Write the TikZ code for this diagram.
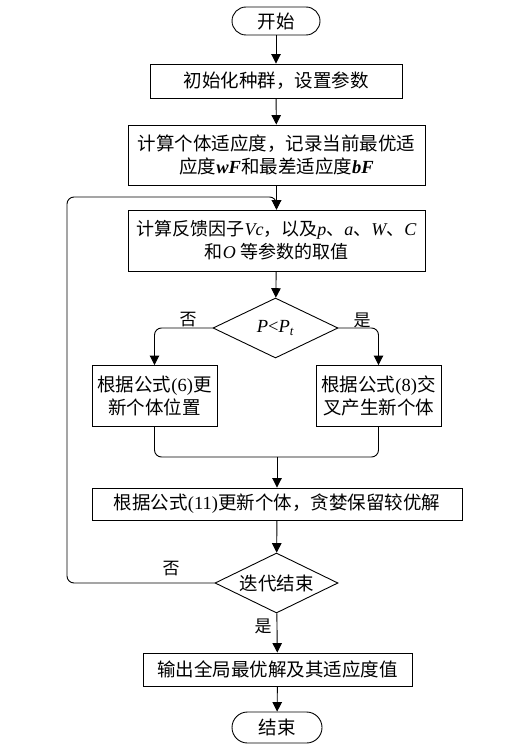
\documentclass[tikz,border=0pt]{standalone}
\usepackage{fontspec}
\setmainfont{Noto Sans CJK SC}
\newfontfamily\lat{Liberation Serif}
\newcommand\myli[1]{{\lat\itshape #1}}
\newcommand\mylb[1]{{\lat\bfseries\itshape #1}}
\newcommand\myrm[1]{{\lat #1}}
\usetikzlibrary{arrows.meta,shapes.geometric}
\begin{document}
\begin{tikzpicture}[x=1pt,y=-1pt,
  every node/.style={font=\fontsize{18.5}{23}\selectfont, text=black, inner sep=0pt},
  box/.style={draw, line width=0.9pt, align=center},
  term/.style={draw, line width=0.9pt, rounded corners=14pt},
  dec/.style={draw, line width=0.9pt, diamond, aspect=2},
  lab/.style={font=\fontsize{17}{20}\selectfont},
  flow/.style={line width=0.9pt, rounded corners=7pt, -{Triangle[length=9.5pt,width=9.5pt]}},
  link/.style={line width=0.9pt, rounded corners=7pt}]
\useasboundingbox (0,0) rectangle (510,749);

\node[term, minimum width=88pt, minimum height=28pt] (start) at (276,21) {开始};
\node[box, minimum width=252pt, minimum height=34pt] (init) at (276,81) {初始化种群，设置参数};
\node[box, minimum width=297pt, minimum height=60pt] (fit) at (276.5,155) {计算个体适应度，记录当前最优适\\应度\mylb{wF}和最差适应度\mylb{bF}};
\node[box, minimum width=297pt, minimum height=61pt, font=\fontsize{18}{23}\selectfont] (fb) at (276.5,240.5) {计算反馈因子\myli{Vc}，以及\myli{p}、\myli{a}、\myli{W}、\myli{C}\\和\myli{O}\myrm{ }等参数的取值};
\node[dec, minimum width=125pt, minimum height=60pt] (cmp) at (275.5,328) {\myli{P}\myrm{<}\myli{P}\textsubscript{\myli{t}}};
\node[box, minimum width=125pt, minimum height=61pt] (lb) at (154.5,396) {根据公式\myrm{(6)}更\\新个体位置};
\node[box, minimum width=125pt, minimum height=61pt] (rb) at (378.5,396) {根据公式\myrm{(8)}交\\叉产生新个体};
\node[box, minimum width=370pt, minimum height=32pt] (upd) at (277,504) {根据公式\myrm{(11)}更新个体，贪婪保留较优解};
\node[dec, minimum width=123pt, minimum height=60pt] (it) at (276.5,583) {迭代结束};
\node[box, minimum width=269pt, minimum height=33pt] (out) at (277.5,669.5) {输出全局最优解及其适应度值};
\node[term, minimum width=90pt, minimum height=31pt, rounded corners=15.5pt] (end) at (277,727.5) {结束};

\coordinate (c1) at (67,197);
\coordinate (c2) at (276.5,197);

\draw[flow] (start) -- (init);
\draw[flow] (init) -- (fit);
\draw[flow] (fit) -- (fb);
\draw[flow] (it.west) -- (it.west -| c1) -- (c1) -- (c2) -- (fb.north);
\draw[flow] (fb) -- (cmp);
\draw[flow] (cmp.west) -- (cmp.west -| lb.north) -- (lb.north);
\draw[flow] (cmp.east) -- (cmp.east -| rb.north) -- (rb.north);
\coordinate (m) at (277,457);
\draw[link] (lb.south) -- (lb.south |- m) -- (m);
\draw[link] (rb.south) -- (rb.south |- m) -- (m);
\draw[flow] (m) -- (upd.north);
\draw[flow] (upd) -- (it);
\draw[flow] (it) -- (out);
\draw[flow] (out) -- (end);

\node[lab] (n1) at (188,320) {否};
\node[lab] (y1) at (362,320) {是};
\node[lab] (n2) at (171,569) {否};
\node[lab] (y2) at (263,626) {是};
\end{tikzpicture}
\end{document}
